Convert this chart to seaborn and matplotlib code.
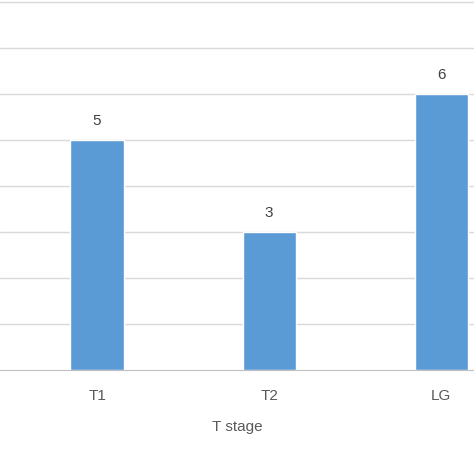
import matplotlib
matplotlib.use("Agg")
import matplotlib.pyplot as plt
import seaborn as sns
import pandas as pd

categories = ["T1", "T2", "LG"]
values = [5, 3, 6]
df = pd.DataFrame({"stage": categories, "count": values})

sns.set_style("white")
plt.rcParams['font.family'] = ['Liberation Sans', 'DejaVu Sans']
fig = plt.figure(figsize=(4.74, 4.74), dpi=100)
ax = fig.add_axes([0, 104/474, 1, 370/474])
sns.barplot(data=df, x="stage", y="count", color="#5B9BD5", width=0.31, saturation=1, ax=ax, zorder=3)
ax.set_xlim(-0.564, 2.19)
ax.set_ylim(0, 8.04)
ax.set_yticks(range(1, 9))
ax.yaxis.grid(True, color="#D9D9D9", linewidth=1, zorder=0)
ax.tick_params(axis="y", length=0, labelleft=False)
ax.tick_params(axis="x", length=0, labelsize=11, colors="#595959", pad=14)
for s in ["top", "right", "left"]:
    ax.spines[s].set_visible(False)
ax.spines["bottom"].set_color("#BFBFBF")
ax.set_ylabel("")
ax.set_xlabel("T stage", fontsize=11, color="#595959", labelpad=12)
for i, v in enumerate(values):
    ax.text(i, v + 0.25, str(v), ha="center", va="bottom", fontsize=11, color="#404040")
fig.savefig("out.png", dpi=100)
